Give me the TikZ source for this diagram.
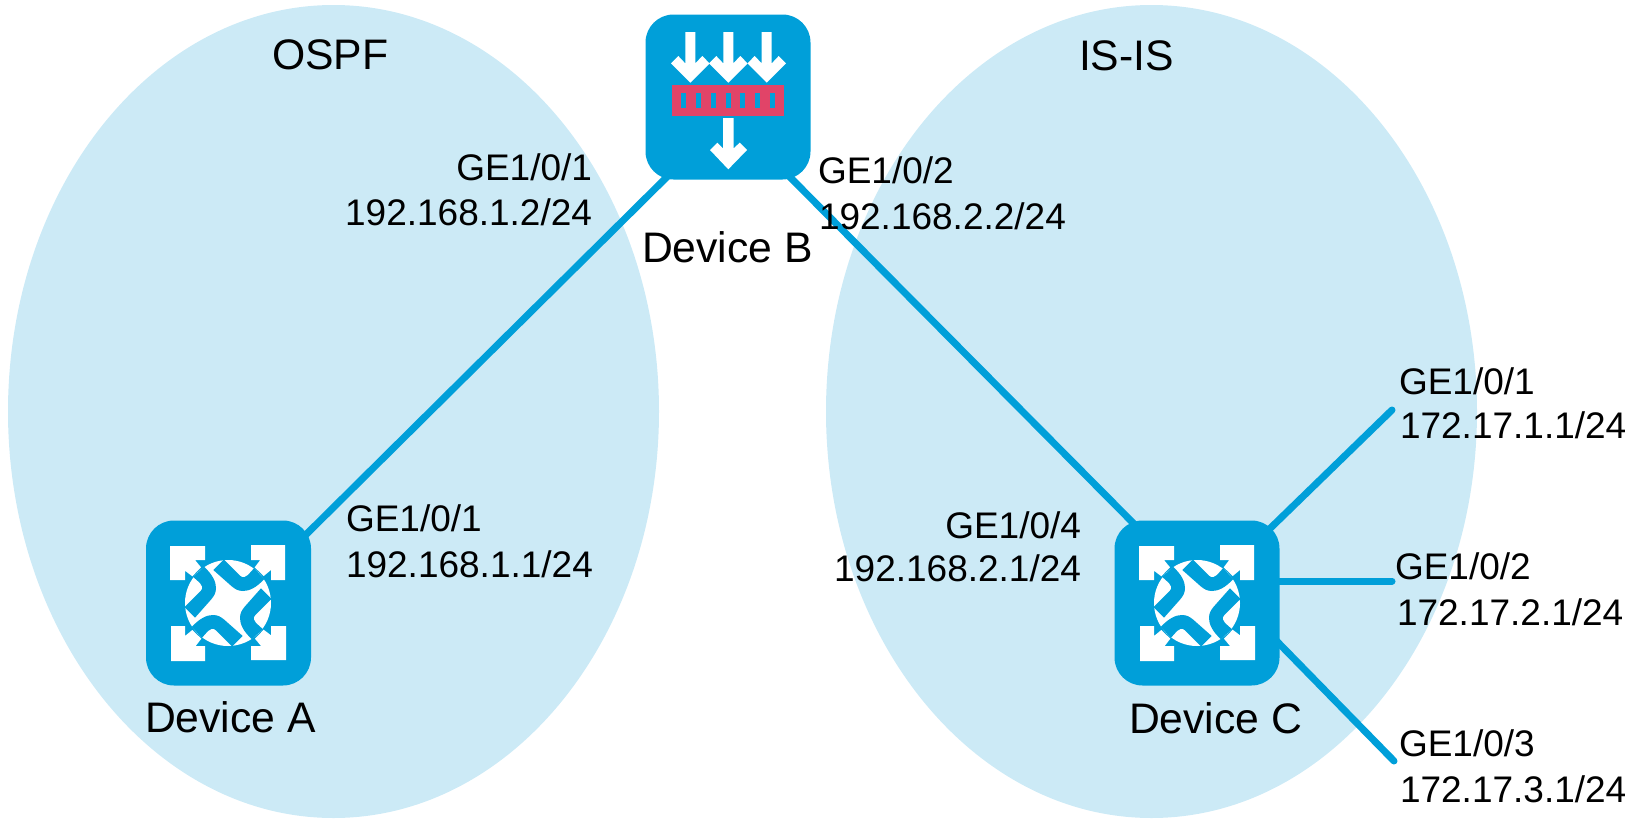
\documentclass[tikz,border=0pt]{standalone}
\usepackage{fontspec}
\setmainfont{Liberation Sans}
\usetikzlibrary{calc}
\definecolor{devblue}{RGB}{0,159,217}
\definecolor{zonefill}{RGB}{204,234,246}
\definecolor{barred}{RGB}{225,68,104}
\pgfdeclarelayer{bg}
\pgfsetlayers{bg,main}
\tikzset{
  devbox/.style={fill=devblue,rounded corners=28pt,minimum width=165pt,minimum height=165pt,inner sep=0pt,outer sep=0pt},
  zone/.style={fill=zonefill,draw=none},
  link/.style={draw=devblue,line width=7pt,line cap=round},
  lbl/.style={font=\fontsize{37}{44}\selectfont,text=black,anchor=base west,inner sep=0pt,outer sep=0pt},
  lblr/.style={lbl,anchor=base east},
  title/.style={lbl,font=\fontsize{42.7}{50}\selectfont},
  switchicon/.pic={
    \foreach \r in {0,90,180,270}{
      \begin{scope}[rotate around={\r:(82,83)}]
        \fill[white] (24,26)--(59,26)--(59,40)--(49,40)--(55,47.3)--(46.3,56.3)--(39,50.7)--(39,60)--(24,60)--cycle;
      \end{scope}
    }
    \fill[white] (82,83) circle[radius=43];
    \foreach \r in {0,90,180,270}{
      \begin{scope}[rotate around={\r:(82,83)}]
        \fill[devblue] (67.3,50)--(78,39.5)--(94,55.7) .. controls (97,58.5) and (100,57) .. (102,55)--(108,48.3)--(118.3,59)
          .. controls (110,68) and (103,71) .. (97,71) .. controls (92,71) and (89,69) .. (85.7,66.3)--cycle;
      \end{scope}
    }
  },
  downarrow/.pic={
    \fill[white] (-5,-50.7)--(5,-50.7)--(5,-19.3)--(12,-26.7)--(19.3,-19.3)--(0,0)--(-19.3,-19.3)--(-12,-26.7)--(-5,-19.3)--cycle;
  },
  filtericon/.pic={
    \path (44.3,67.7) pic {downarrow};
    \path (82.3,67.7) pic {downarrow};
    \path (120.7,67.7) pic {downarrow};
    \fill[barred] (26,70.3) rectangle (137.7,100.7);
    \foreach \wx in {35,49.7,65,79.7,93.7,109,124}{
      \fill[devblue] (\wx,78.3) rectangle +(5.2,14.4);
    }
    \fill[white] (77,103)--(87.7,103)--(87.7,133.3)--(93.7,127.7)--(101,135)--(82.3,154.3)--(64,135)--(71.3,127.7)--(77,133.3)--cycle;
  },
}
\begin{document}
\begin{tikzpicture}[x=1pt,y=-1pt]
\useasboundingbox (0,0) rectangle (1634,830);
\node[devbox] (A) at (228.5,603) {};
\node[devbox] (B) at (728,97) {};
\node[devbox] (C) at (1197,603) {};
\coordinate (c1) at (1392,410);
\coordinate (c2) at (1392,581);
\coordinate (c3) at (1394,761);
\begin{pgfonlayer}{bg}
  \fill[zone] (333.5,411.5) ellipse[x radius=325.5,y radius=406.5];
  \fill[zone] (1151.5,411.5) ellipse[x radius=325.5,y radius=406.5];
  \draw[link] ([shift={(-17,26)}]A.north east) -- ([shift={(35,-16)}]B.south west);
  \draw[link] ([shift={(-33,-15)}]B.south east) -- ([shift={(36,20)}]C.north west);
  \draw[link] ([shift={(-28,26)}]C.north east) -- (c1);
  \draw[link] (C.center |- c2) -- (c2);
  \draw[link] ([shift={(-20,-62)}]C.south east) -- (c3);
\end{pgfonlayer}
\path (146,520) pic {switchicon};
\path (1115,520) pic {switchicon};
\path (646,15) pic {filtericon};
\node[title] (tospf) at (272,69) {OSPF};
\node[title] (tisis) at (1079,70) {IS-IS};
\node[lblr] (b1a) at (592,180) {GE1/0/1};
\node[lblr] (b1b) at (592,225) {192.168.1.2/24};
\node[lbl] (b2a) at (818,183) {GE1/0/2};
\node[lbl] (b2b) at (819,229) {192.168.2.2/24};
\node[title] (nb) at (642,262) {Device B};
\node[title] (na) at (145,732) {Device A};
\node[lbl] (a1a) at (346,531) {GE1/0/1};
\node[lbl] (a1b) at (346,577) {192.168.1.1/24};
\node[lblr] (c4a) at (1081,538) {GE1/0/4};
\node[lblr] (c4b) at (1081,581) {192.168.2.1/24};
\node[title] (nc) at (1129,733) {Device C};
\node[lbl] (c1a) at (1399,394) {GE1/0/1};
\node[lbl] (c1b) at (1400,438) {172.17.1.1/24};
\node[lbl] (c2a) at (1395,579) {GE1/0/2};
\node[lbl] (c2b) at (1397,625) {172.17.2.1/24};
\node[lbl] (c3a) at (1399,756) {GE1/0/3};
\node[lbl] (c3b) at (1400,802) {172.17.3.1/24};
\end{tikzpicture}
\end{document}
